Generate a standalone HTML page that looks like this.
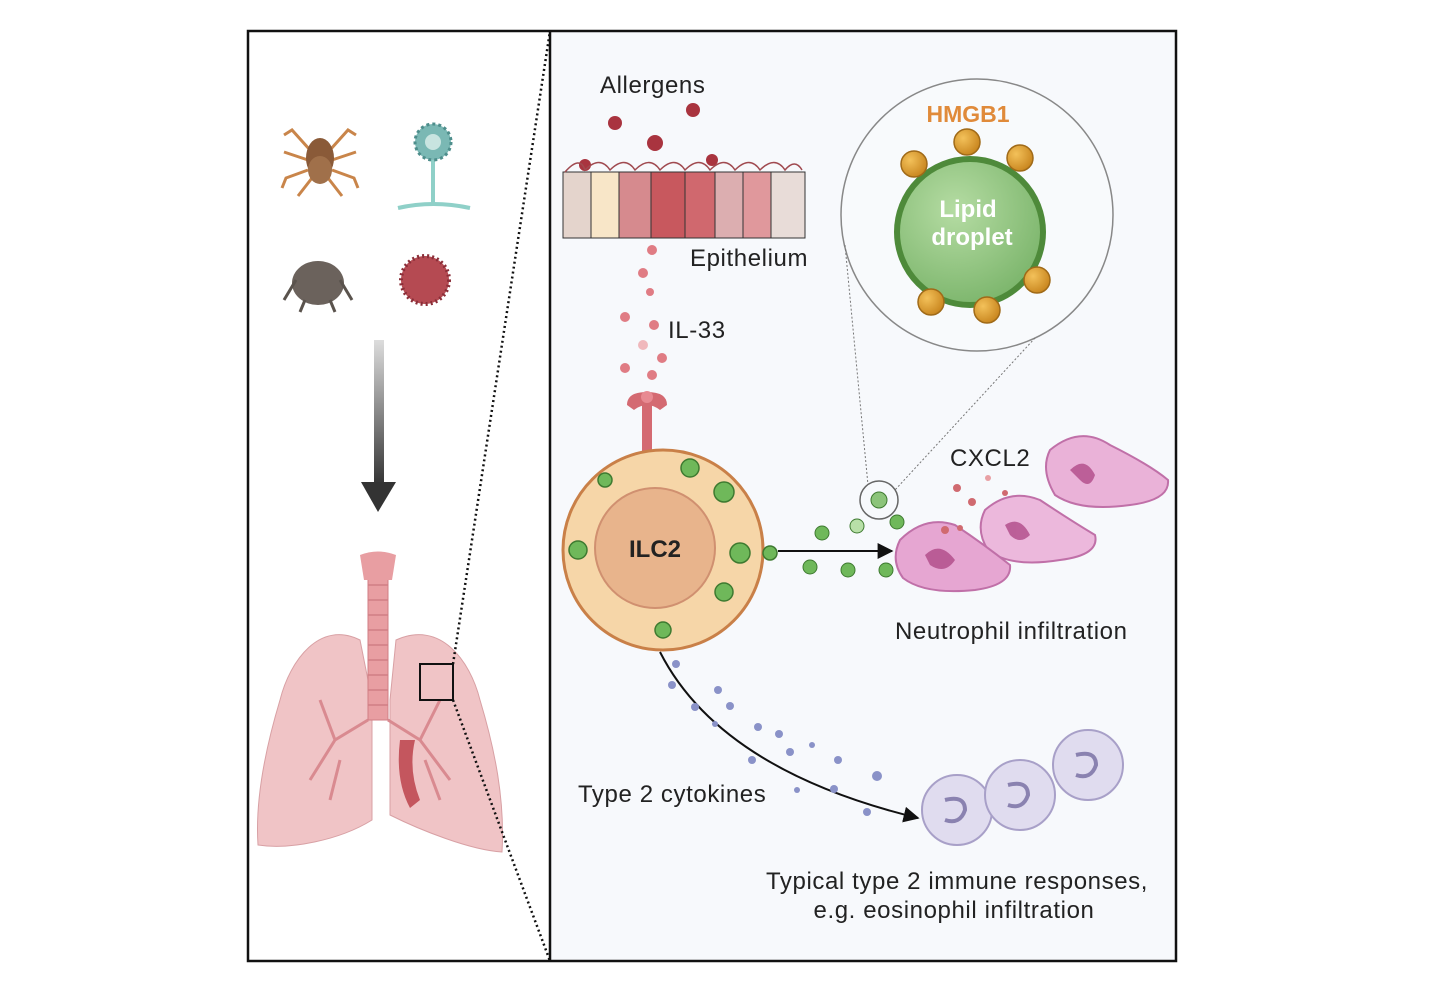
<!DOCTYPE html>
<html><head><meta charset="utf-8"><style>
html,body{margin:0;padding:0;background:#fff;}
svg{display:block;font-family:"Liberation Sans",Arial,sans-serif;}
text{letter-spacing:0.6px;}
</style></head><body>
<svg width="1434" height="1000" viewBox="0 0 1434 1000" xmlns="http://www.w3.org/2000/svg">
<defs>
<linearGradient id="ag" x1="0" y1="0" x2="0" y2="1"><stop offset="0" stop-color="#ddd"/><stop offset="1" stop-color="#333"/></linearGradient>
<radialGradient id="dg" cx="0.4" cy="0.35" r="0.7"><stop offset="0" stop-color="#b5dca3"/><stop offset="1" stop-color="#7ab46a"/></radialGradient>
<radialGradient id="ob" cx="0.35" cy="0.35" r="0.7"><stop offset="0" stop-color="#f3c15a"/><stop offset="1" stop-color="#c8851e"/></radialGradient>
<marker id="ah" viewBox="0 0 10 10" refX="9" refY="5" markerWidth="8" markerHeight="8" orient="auto"><path d="M0,0 L10,5 L0,10 z" fill="#111"/></marker>
</defs>
<rect x="550" y="31" width="626" height="930" fill="#f7f9fc"/>
<rect x="248" y="31" width="928" height="930" fill="none" stroke="#111" stroke-width="2.5"/>
<line x1="550" y1="31" x2="550" y2="961" stroke="#111" stroke-width="2.5"/>

<g stroke="#c9854a" stroke-width="3" fill="none">
<path d="M310 150 l-18 -20 l-8 5 M308 160 l-24 -8 M308 170 l-22 8 l-4 10 M312 178 l-14 18 M330 150 l18 -20 l8 5 M332 160 l24 -8 M332 170 l22 8 l4 10 M328 178 l14 18"/>
</g>
<ellipse cx="320" cy="158" rx="14" ry="20" fill="#8a5a38"/>
<ellipse cx="320" cy="170" rx="12" ry="14" fill="#a0704a"/>
<line x1="433" y1="160" x2="433" y2="205" stroke="#8fd0c8" stroke-width="4"/>
<path d="M398 208 Q433 200 470 208" stroke="#8fd0c8" stroke-width="4" fill="none"/>
<circle cx="433" cy="142" r="18" fill="#7ab8b4" stroke="#4e8e8c" stroke-width="3" stroke-dasharray="3 3"/>
<circle cx="433" cy="142" r="8" fill="#c8e4e0"/>
<ellipse cx="318" cy="283" rx="26" ry="22" fill="#6b625c"/>
<g stroke="#5a534d" stroke-width="3"><line x1="296" y1="280" x2="284" y2="300"/><line x1="340" y1="280" x2="352" y2="300"/><line x1="305" y1="300" x2="300" y2="312"/><line x1="330" y1="300" x2="335" y2="312"/></g>
<circle cx="425" cy="280" r="24" fill="#b54a52" stroke="#8a2e38" stroke-width="4" stroke-dasharray="2 3"/>
<rect x="374" y="340" width="10" height="145" fill="url(#ag)"/>
<path d="M361 482 L396 482 L378 512 z" fill="#333"/>

<path d="M360 640 C320 620 290 660 280 700 C265 750 255 800 258 845 C290 850 340 840 372 820 L372 700 Z" fill="#f0c4c6" stroke="#d8a0a4"/>
<path d="M396 640 C440 620 470 660 480 700 C495 750 505 800 502 852 C470 850 420 830 390 815 L390 700 Z" fill="#f0c4c6" stroke="#d8a0a4"/>
<path d="M400 740 Q395 780 410 808 L420 800 Q408 770 415 740 Z" fill="#c4565e"/>
<rect x="368" y="570" width="20" height="150" fill="#e89ea2" stroke="#d07e84"/>
<g stroke="#d07e84" stroke-width="1.5"><line x1="368" y1="585" x2="388" y2="585"/><line x1="368" y1="600" x2="388" y2="600"/><line x1="368" y1="615" x2="388" y2="615"/><line x1="368" y1="630" x2="388" y2="630"/><line x1="368" y1="645" x2="388" y2="645"/><line x1="368" y1="660" x2="388" y2="660"/><line x1="368" y1="675" x2="388" y2="675"/><line x1="368" y1="690" x2="388" y2="690"/><line x1="368" y1="705" x2="388" y2="705"/></g>
<path d="M360 555 Q378 548 396 555 L392 580 L364 580 Z" fill="#e89ea2"/>
<g stroke="#d98a90" stroke-width="3" fill="none"><path d="M368 720 L335 740 L310 780 M335 740 L320 700 M340 760 L330 800"/><path d="M388 720 L420 740 L450 780 M420 740 L440 700 M425 760 L440 800"/></g>
<rect x="420" y="664" width="33" height="36" fill="none" stroke="#111" stroke-width="2"/>
<line x1="453" y1="664" x2="550" y2="31" stroke="#111" stroke-width="2.5" stroke-dasharray="2 3"/>
<line x1="453" y1="700" x2="550" y2="961" stroke="#111" stroke-width="2.5" stroke-dasharray="2 3"/>

<text x="600" y="93" font-size="24" fill="#222">Allergens</text>
<g fill="#a9343f"><circle cx="615" cy="123" r="7"/><circle cx="693" cy="110" r="7"/><circle cx="655" cy="143" r="8"/><circle cx="712" cy="160" r="6"/><circle cx="585" cy="165" r="6"/></g>
<g stroke="#333" stroke-width="1">
<rect x="563" y="172" width="28" height="66" fill="#e4d4cc"/>
<rect x="591" y="172" width="28" height="66" fill="#f8e6c8"/>
<rect x="619" y="172" width="32" height="66" fill="#d68a8e"/>
<rect x="651" y="172" width="34" height="66" fill="#c8585e"/>
<rect x="685" y="172" width="30" height="66" fill="#d0686e"/>
<rect x="715" y="172" width="28" height="66" fill="#dcaeb0"/>
<rect x="743" y="172" width="28" height="66" fill="#e0989c"/>
<rect x="771" y="172" width="34" height="66" fill="#e8dcd8"/>
</g>
<path d="M565 172 Q580 155 585 170 Q600 155 610 170 Q625 155 635 170 Q650 155 660 170 Q675 155 685 170 Q700 155 710 170 Q725 155 735 170 Q750 155 760 170 Q775 155 785 170 Q795 158 802 170" stroke="#a04a50" stroke-width="1.5" fill="none"/>
<text x="690" y="266" font-size="24" fill="#222">Epithelium</text>
<g fill="#e07c84"><circle cx="652" cy="250" r="5"/><circle cx="643" cy="273" r="5"/><circle cx="650" cy="292" r="4"/><circle cx="625" cy="317" r="5"/><circle cx="654" cy="325" r="5"/><circle cx="643" cy="345" r="5" fill="#f0b8bc"/><circle cx="662" cy="358" r="5"/><circle cx="625" cy="368" r="5"/><circle cx="652" cy="375" r="5"/></g>
<text x="668" y="338" font-size="24" fill="#222">IL-33</text>
<rect x="642" y="405" width="10" height="52" fill="#d46a72"/>
<path d="M627 405 Q627 392 647 392 Q667 392 667 405 L660 410 Q647 400 634 410 Z" fill="#d46a72"/>
<circle cx="647" cy="397" r="6" fill="#e88a92"/>

<circle cx="663" cy="550" r="100" fill="#f6d6a8" stroke="#c98048" stroke-width="3"/>
<circle cx="655" cy="548" r="60" fill="#e8b48c" stroke="#d09070" stroke-width="2"/>
<text x="655" y="557" font-size="24" font-weight="bold" fill="#222" text-anchor="middle" style="letter-spacing:0">ILC2</text>
<g fill="#6fb85a" stroke="#3e7a30" stroke-width="1.5"><circle cx="605" cy="480" r="7"/><circle cx="690" cy="468" r="9"/><circle cx="724" cy="492" r="10"/><circle cx="578" cy="550" r="9"/><circle cx="740" cy="553" r="10"/><circle cx="724" cy="592" r="9"/><circle cx="663" cy="630" r="8"/><circle cx="770" cy="553" r="7"/></g>

<line x1="778" y1="551" x2="892" y2="551" stroke="#111" stroke-width="2" marker-end="url(#ah)"/>
<g fill="#6fb85a" stroke="#3e7a30" stroke-width="1"><circle cx="822" cy="533" r="7"/><circle cx="810" cy="567" r="7"/><circle cx="848" cy="570" r="7"/><circle cx="886" cy="570" r="7"/><circle cx="897" cy="522" r="7"/><circle cx="857" cy="526" r="7" fill="#b8e0a8"/></g>

<circle cx="977" cy="215" r="136" fill="#f8fafc" stroke="#888" stroke-width="1.5"/>
<line x1="845" y1="245" x2="868" y2="485" stroke="#777" stroke-dasharray="2 2"/>
<line x1="1035" y1="338" x2="895" y2="490" stroke="#777" stroke-dasharray="2 2"/>
<circle cx="879" cy="500" r="19" fill="none" stroke="#666" stroke-width="1.5"/>
<circle cx="879" cy="500" r="8" fill="#8cc47a" stroke="#3e7a30"/>
<circle cx="970" cy="232" r="73" fill="url(#dg)" stroke="#4e8a3a" stroke-width="6"/>
<text x="968" y="217" font-size="24" font-weight="bold" fill="#fff" text-anchor="middle" style="letter-spacing:0">Lipid</text>
<text x="972" y="245" font-size="24" font-weight="bold" fill="#fff" text-anchor="middle" style="letter-spacing:0">droplet</text>
<g fill="url(#ob)" stroke="#a06a18" stroke-width="1.5"><circle cx="914" cy="164" r="13"/><circle cx="967" cy="142" r="13"/><circle cx="1020" cy="158" r="13"/><circle cx="1037" cy="280" r="13"/><circle cx="987" cy="310" r="13"/><circle cx="931" cy="302" r="13"/></g>
<text x="968" y="122" font-size="23" font-weight="bold" fill="#e08a3a" text-anchor="middle" style="letter-spacing:0">HMGB1</text>

<g stroke="#c070a8" stroke-width="2">
<path d="M1050 450 Q1080 425 1110 445 Q1150 465 1168 480 Q1170 500 1130 505 Q1080 512 1055 495 Q1040 470 1050 450 Z" fill="#eab2d8"/>
<path d="M985 510 Q1010 488 1040 500 Q1070 520 1095 535 Q1100 555 1060 560 Q1010 568 988 550 Q975 530 985 510 Z" fill="#ecb8dc"/>
<path d="M900 540 Q925 515 955 525 Q985 545 1010 565 Q1012 585 975 590 Q925 595 903 578 Q890 560 900 540 Z" fill="#e6a6d2"/>
</g>
<g fill="#b04a88" opacity="0.8"><path d="M1070 470 q15 -15 25 5 q-5 15 -15 5 z"/><path d="M1005 525 q15 -10 25 10 q-10 10 -20 0 z"/><path d="M925 555 q15 -15 30 5 q-10 15 -25 5 z"/></g>
<text x="950" y="466" font-size="24" fill="#222">CXCL2</text>
<g fill="#d06a70"><circle cx="957" cy="488" r="4"/><circle cx="972" cy="502" r="4"/><circle cx="945" cy="530" r="4"/><circle cx="960" cy="528" r="3"/><circle cx="1005" cy="493" r="3"/><circle cx="988" cy="478" r="3" fill="#e8a0a4"/></g>
<text x="895" y="639" font-size="24" fill="#222">Neutrophil infiltration</text>

<path d="M660 652 Q720 770 918 818" stroke="#111" stroke-width="2" fill="none" marker-end="url(#ah)"/>
<g fill="#8a92c8"><circle cx="676" cy="664" r="4"/><circle cx="672" cy="685" r="4"/><circle cx="718" cy="690" r="4"/><circle cx="695" cy="707" r="4"/><circle cx="730" cy="706" r="4"/><circle cx="758" cy="727" r="4"/><circle cx="779" cy="734" r="4"/><circle cx="715" cy="724" r="3"/><circle cx="790" cy="752" r="4"/><circle cx="812" cy="745" r="3"/><circle cx="752" cy="760" r="4"/><circle cx="838" cy="760" r="4"/><circle cx="877" cy="776" r="5"/><circle cx="834" cy="789" r="4"/><circle cx="867" cy="812" r="4"/><circle cx="797" cy="790" r="3"/></g>
<text x="578" y="802" font-size="24" fill="#222">Type 2 cytokines</text>
<g stroke="#a8a0c8" stroke-width="2" fill="#e0dcef">
<circle cx="957" cy="810" r="35"/><circle cx="1020" cy="795" r="35"/><circle cx="1088" cy="765" r="35"/>
</g>
<g stroke="#8a82b0" stroke-width="4" fill="none"><path d="M945 800 q20 -5 20 10 q-5 15 -20 10"/><path d="M1008 785 q20 -5 20 10 q-5 15 -20 10"/><path d="M1076 755 q20 -5 20 10 q-5 15 -20 10"/></g>
<text x="957" y="889" font-size="24" fill="#222" text-anchor="middle">Typical type 2 immune responses,</text>
<text x="954" y="918" font-size="24" fill="#222" text-anchor="middle">e.g. eosinophil infiltration</text>
</svg>
</body></html>
